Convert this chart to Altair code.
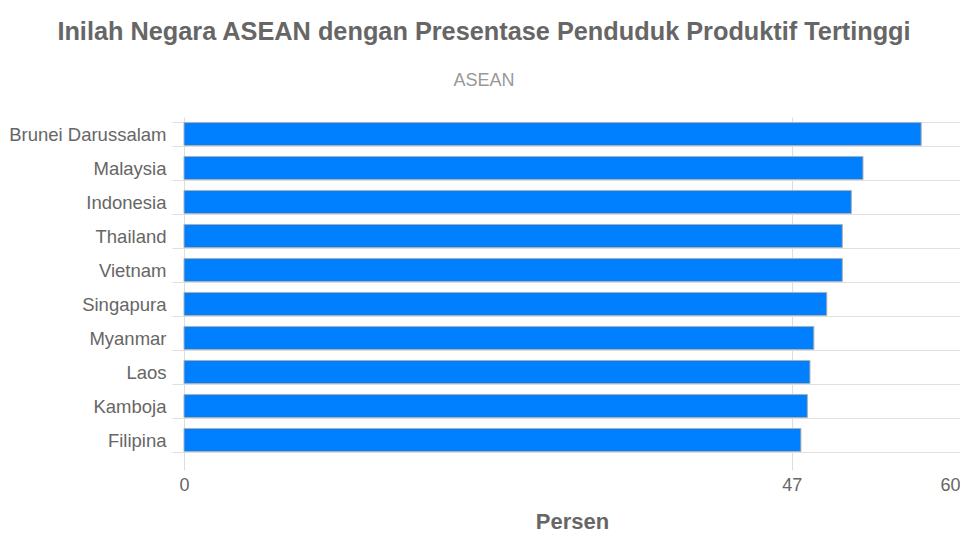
import altair as alt
import pandas as pd

countries = ["Brunei Darussalam", "Malaysia", "Indonesia", "Thailand", "Vietnam",
             "Singapura", "Myanmar", "Laos", "Kamboja", "Filipina"]
values = [57.0, 52.5, 51.6, 50.9, 50.9, 49.7, 48.7, 48.4, 48.2, 47.7]
x_ticks = [0, 47, 60]

df = pd.DataFrame({"Negara": countries, "Persen": values})

FONT = "Liberation Sans"

chart = alt.Chart(df).mark_bar(
    color="#0080ff", stroke="#b0b0b0", strokeWidth=1
).encode(
    y=alt.Y("Negara:N", sort=countries,
            scale=alt.Scale(paddingInner=0.32, paddingOuter=0.16),
            axis=alt.Axis(title=None, tickBand="extent", grid=True, gridColor="#e0e0e0",
                          ticks=True, tickSize=12, tickColor="#e0e0e0", domain=False,
                          labelFontSize=18.5, labelColor="#666666", labelFont=FONT,
                          labelPadding=6)),
    x=alt.X("Persen:Q", scale=alt.Scale(domain=[0, 60], nice=False),
            axis=alt.Axis(title="Persen", values=x_ticks, grid=True, gridColor="#dddddd",
                          ticks=True, tickSize=13, tickColor="#dddddd", domain=False,
                          labelFontSize=18, labelColor="#666666", labelFont=FONT,
                          labelFlush=False,
                          labelAlign=alt.expr("datum.value == 60 ? 'right' : 'center'"),
                          labelPadding=6,
                          titleFontSize=22, titleFontWeight="bold",
                          titleColor="#666666", titleFont=FONT, titlePadding=17))
).properties(
    width=776, height=340,
    title=alt.TitleParams(
        text="Inilah Negara ASEAN dengan Presentase Penduduk Produktif Tertinggi",
        subtitle="ASEAN", anchor="middle", dx=-88, offset=18,
        fontSize=25.3, fontWeight="bold", color="#666666", font=FONT,
        subtitleFontSize=18, subtitleColor="#999999", subtitleFont=FONT,
        subtitlePadding=27),
    autosize=alt.AutoSizeParams(type="none"),
    padding={"left": 176, "top": 109, "right": 0, "bottom": 78}
).configure_view(stroke=None)

chart.save("out.html", embed_options={"renderer": "svg", "actions": False})
